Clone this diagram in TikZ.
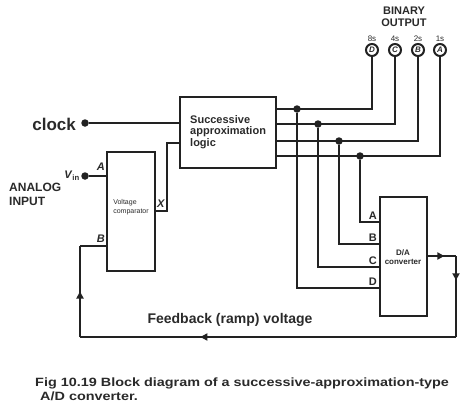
\documentclass[tikz,border=0pt]{standalone}
\usepackage{fontspec}
\setmainfont{Liberation Sans}
\usetikzlibrary{arrows.meta,decorations.markings}
\definecolor{ink}{HTML}{222222}
\definecolor{txt}{HTML}{2A2A2A}
\begin{document}
\begin{tikzpicture}[x=1pt,y=-1pt,
  wire/.style={draw=ink,line width=2.5pt},
  blk/.style={draw=ink,line width=2.5pt,fill=white},
  dot/.style={circle,fill=ink,inner sep=0pt,minimum size=7.5pt},
  outc/.style={circle,draw=ink,line width=2pt,fill=white,inner sep=0pt,minimum size=12pt,font=\bfseries\itshape\fontsize{8}{8}\selectfont,text=txt},
  lbl/.style={font=\bfseries\fontsize{11}{11}\selectfont,text=txt,inner sep=0pt},
  midarr/.style={postaction={decorate},decoration={markings,mark=at position #1 with {\arrow{Triangle[length=7pt,width=7pt]}}}},
  captxt/.style={font=\bfseries\fontsize{12}{12}\selectfont,text=txt,anchor=base west,inner sep=0pt,xscale=1.2}
]
\useasboundingbox (0,0) rectangle (474,415);
\fill[white] (0,0) rectangle (474,415);
% blocks
\path[blk] (180,97) rectangle (276,168);
\node[lbl,anchor=west,align=left,font=\bfseries\fontsize{11}{11.8}\selectfont] (saltxt) at (190,132) {Successive\\approximation\\logic};
\path[blk] (107,152) rectangle (155,271);
\node[align=left,font=\fontsize{7}{8.5}\selectfont,text=txt,inner sep=0pt] (vctxt) at (131,207) {Voltage\\comparator};
\path[blk] (380,197) rectangle (427,316);
\node[align=center,font=\bfseries\fontsize{8}{9.5}\selectfont,text=txt,inner sep=0pt] (datxt) at (403,257) {D/A\\converter};
% clock
\node[dot] (clk) at (85,123) {};
\coordinate (salclk) at (180,123);
\draw[wire] (clk) -- (salclk);
\node[font=\bfseries\fontsize{17}{17}\selectfont,text=txt,anchor=east,inner sep=0pt] (clocktxt) at (76,124) {clock};
% Vin
\node[dot] (vin) at (85,176) {};
\coordinate (cmpA) at (107,176);
\draw[wire] (vin) -- (cmpA);
\node[font=\bfseries\fontsize{11}{11}\selectfont,text=txt,anchor=east,inner sep=0pt] (vintxt) at (80,176) {\textit{V}\textsubscript{in}};
\node[lbl,anchor=south east] (Atxt) at (105,171) {\textit{A}};
\node[lbl,anchor=south east] (Btxt) at (105,243) {\textit{B}};
\node[lbl,anchor=south west] (Xtxt) at (157,208) {\textit{X}};
\node[font=\bfseries\fontsize{12}{14}\selectfont,text=txt,anchor=north west,align=left,inner sep=0pt] (ai) at (9,183) {ANALOG\\INPUT};
% X to SAL
\coordinate (cmpX) at (155,211);
\coordinate (salX) at (180,143);
\draw[wire] (cmpX) -- (167,211) |- (salX);
% output lines
\foreach \y/\xd/\xo/\yi/\n in {109/297/372/288/D,124/318/395/267/C,141/339/418/244/B,156/360/440/222/A}{
  \coordinate (s\n) at (276,\y);
  \node[dot] (d\n) at (\xd,\y) {};
  \node[outc] (o\n) at (\xo,50) {\n};
  \coordinate (da\n) at (380,\yi);
  \draw[wire] (s\n) -- (\xo,\y) -- (o\n.south);
  \draw[wire] (d\n) |- (da\n);
  \node[lbl,anchor=south east] (l\n) at (377,\yi-2) {\n};
}
\foreach \n/\t in {D/8s,C/4s,B/2s,A/1s}{
  \node[font=\fontsize{8}{8}\selectfont,text=txt,anchor=south,inner sep=0pt] at ([yshift=1pt]o\n.north) {\t};
}
\node[font=\bfseries\fontsize{11}{12.5}\selectfont,text=txt,align=center,inner sep=0pt] (bo) at (404,17) {BINARY\\OUTPUT};
% feedback
\coordinate (daout) at (427,256);
\coordinate (c1) at (456,256);
\coordinate (c2) at (456,337);
\coordinate (c3) at (80,337);
\coordinate (c4) at (80,246);
\coordinate (cmpB) at (107,246);
\draw[wire,midarr=0.6] (daout) -- (c1);
\draw[wire,midarr=0.3] (c1) -- (c2);
\draw[wire,midarr=0.68] (c2) -- (c3);
\draw[wire,midarr=0.5] (c3) -- (c4);
\draw[wire] (c4) -- (cmpB);
\node[font=\bfseries\fontsize{14}{14}\selectfont,text=txt,inner sep=0pt] (fb) at (230,320) {Feedback (ramp) voltage};
% caption
\node[captxt] (cap1) at (35,386) {Fig 10.19 Block diagram of a successive-approximation-type};
\node[captxt] (cap2) at (40,400) {A/D converter.};
\end{tikzpicture}
\end{document}
